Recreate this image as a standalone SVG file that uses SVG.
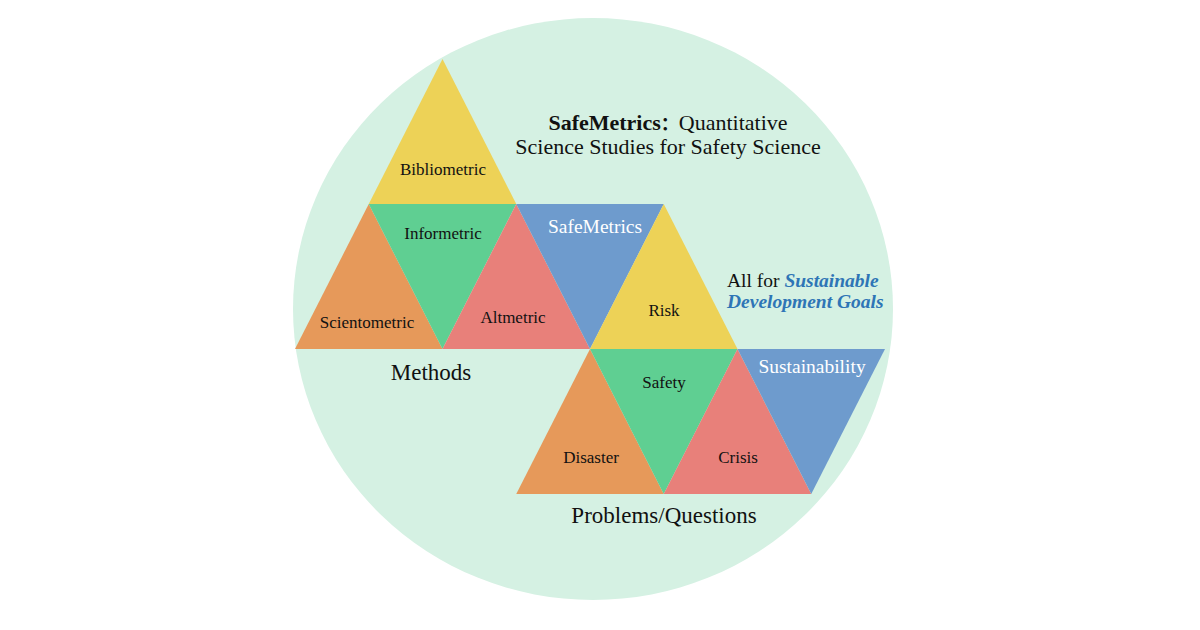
<svg xmlns="http://www.w3.org/2000/svg" width="1200" height="630" viewBox="0 0 1200 630">
  <style>
    .y { fill: #EDD257; }
    .o { fill: #E6995A; }
    .g { fill: #5FCF92; }
    .r { fill: #E8807A; }
    .b { fill: #6E9BCD; }
    text { font-family: "Liberation Serif", "Noto Sans CJK SC", serif; }
    .lbl { font-size: 17px; fill: #111; text-anchor: middle; }
    .wl { font-size: 19.5px; fill: #ffffff; text-anchor: middle; }
    .big { font-size: 23px; fill: #111; text-anchor: middle; }
  </style>
  <rect width="1200" height="630" fill="#ffffff"/>
  <ellipse id="background-circle" cx="593" cy="309" rx="300" ry="291" fill="#D5F1E3"/>

  <g id="connectors"></g>

  <g id="bibliometric"><polygon class="y" points="442.5,59 368.75,204 516.25,204"/><text class="lbl" x="443" y="175">Bibliometric</text></g>
  <g id="scientometric"><polygon class="o" points="368.75,204 295,349 442.5,349"/><text class="lbl" x="367" y="328">Scientometric</text></g>
  <g id="informetric"><polygon class="g" points="368.75,204 516.25,204 442.5,349"/><text class="lbl" x="443" y="239">Informetric</text></g>
  <g id="altmetric"><polygon class="r" points="516.25,204 442.5,349 590,349"/><text class="lbl" x="513" y="323">Altmetric</text></g>
  <g id="safemetrics"><polygon class="b" points="516.25,204 663.75,204 590,349"/><text class="wl" x="595" y="233">SafeMetrics</text></g>
  <g id="risk"><polygon class="y" points="663.75,204 590,349 737.5,349"/><text class="lbl" x="664" y="316">Risk</text></g>

  <g id="disaster"><polygon class="o" points="590,349 516.25,494 663.75,494"/><text class="lbl" x="591" y="463">Disaster</text></g>
  <g id="safety"><polygon class="g" points="590,349 737.5,349 663.75,494"/><text class="lbl" x="664" y="388">Safety</text></g>
  <g id="crisis"><polygon class="r" points="737.5,349 663.75,494 811.25,494"/><text class="lbl" x="738" y="463">Crisis</text></g>
  <g id="sustainability"><polygon class="b" points="737.5,349 885,349 811.25,494"/><text class="wl" x="812" y="373">Sustainability</text></g>

  <g id="methods-label"><text class="big" x="431" y="380">Methods</text></g>
  <g id="problems-label"><text class="big" x="664" y="523">Problems/Questions</text></g>

  <g id="title">
    <text x="668" y="130" font-size="22" fill="#111" text-anchor="middle"><tspan font-weight="bold">SafeMetrics</tspan><tspan font-weight="bold" font-size="18">：</tspan>Quantitative</text>
    <text x="668" y="154" font-size="22" fill="#111" text-anchor="middle">Science Studies for Safety Science</text>
  </g>

  <g id="sdg-note">
    <text x="727" y="287" font-size="19.5" fill="#111">All for <tspan font-weight="bold" font-style="italic" fill="#2E75B6">Sustainable</tspan></text>
    <text x="727" y="308" font-size="19.5" font-weight="bold" font-style="italic" fill="#2E75B6">Development Goals</text>
  </g>
</svg>
